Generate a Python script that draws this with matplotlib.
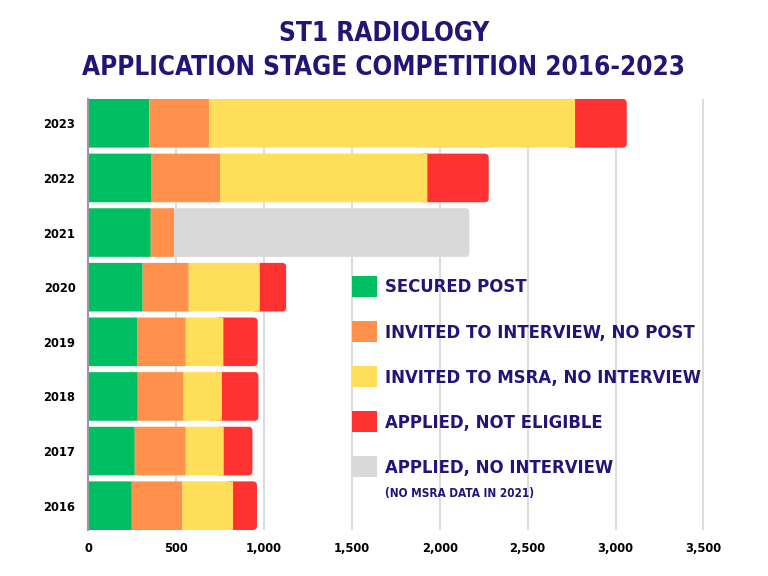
import matplotlib
matplotlib.use("Agg")
import matplotlib.pyplot as plt
from matplotlib.patches import Patch, FancyBboxPatch
from matplotlib.ticker import FuncFormatter
import numpy as np

years = ["2016", "2017", "2018", "2019", "2020", "2021", "2022", "2023"]
secured_post = [249, 266, 283, 279, 311, 357, 362, 349]
interview_no_post = [288, 290, 261, 277, 262, 132, 389, 339]
msra_no_interview = [288, 216, 218, 214, 404, 0, 1179, 2082]
not_eligible = [136, 163, 207, 195, 150, 0, 349, 294]
applied_no_interview = [0, 0, 0, 0, 0, 1680, 0, 0]

labels = ["SECURED POST", "INVITED TO INTERVIEW, NO POST",
          "INVITED TO MSRA, NO INTERVIEW", "APPLIED, NOT ELIGIBLE",
          "APPLIED, NO INTERVIEW"]
colors = ["#00BF63", "#FF914D", "#FFDE59", "#FF3131", "#D9D9D9"]
navy = "#221577"

cond = dict(family="DejaVu Sans", stretch="condensed", weight="bold")

W, H = 768, 576
fig = plt.figure(figsize=(7.68, 5.76), dpi=100)
ax = fig.add_axes([88/W, 1-530/H, 633/W, 431/H])

series = [secured_post, interview_no_post, msra_no_interview, not_eligible, applied_no_interview]
y = np.arange(len(years))
left = np.zeros(len(years))
containers = []
for vals, col, lab in zip(series, colors, labels):
    vals = np.array(vals, dtype=float)
    bc = ax.barh(y, vals, left=left, height=0.89, color=col, label=lab, linewidth=0, zorder=3)
    for p in bc.patches:
        p.set_snap(False)
    containers.append(bc)
    left += vals

ax.set_xlim(0, 3600)
ax.set_ylim(-0.445, 7.445)

# round the right end of each stacked bar
x_per_px = 3600 / 633
y_per_px = 7.89 / 431
r_px = 4
for i in range(len(years)):
    last = None
    for bc in containers:
        if bc.patches[i].get_width() > 0:
            last = bc.patches[i]
    x0, yb = last.get_x(), last.get_y()
    w, h = last.get_width(), last.get_height()
    last.set_visible(False)
    ext = 2 * r_px * x_per_px
    fb = FancyBboxPatch((x0 - ext, yb), w + ext, h,
                        boxstyle=f"round,pad=0,rounding_size={r_px * x_per_px}",
                        mutation_aspect=y_per_px / x_per_px,
                        facecolor=last.get_facecolor(), edgecolor="none", zorder=2,
                        snap=False)
    ax.add_patch(fb)

ax.set_yticks(y)
ax.set_yticklabels(years)
ax.set_xticks(np.arange(0, 3501, 500))
ax.xaxis.set_major_formatter(FuncFormatter(lambda v, p: f"{int(v):,}"))
for lab in ax.get_xticklabels() + ax.get_yticklabels():
    lab.set_fontproperties(dict(size=9.3, **cond))
    lab.set_color("black")
ax.tick_params(axis="both", length=0)
ax.tick_params(axis="y", pad=9)
ax.tick_params(axis="x", pad=9)
ax.grid(axis="x", color="#D5D5D5", linewidth=1.2, zorder=0)
for s in ["top", "right", "bottom"]:
    ax.spines[s].set_visible(False)
ax.spines["left"].set_color("#999999")
ax.spines["left"].set_linewidth(1.5)
ax.spines["left"].set_zorder(4)

fig.text(0.5, 1-34/H, "ST1 RADIOLOGY", ha="center", va="center", color=navy, fontsize=18.75, **cond)
fig.text(0.5, 1-68/H, "APPLICATION STAGE COMPETITION 2016-2023", ha="center", va="center", color=navy, fontsize=18.75, **cond)

handles = [Patch(facecolor=c, edgecolor="none") for c in colors]
leg = ax.legend(handles, labels, loc="upper left",
                bbox_to_anchor=((352-88)/633, (530-276)/431),
                frameon=False, prop=dict(size=13.2, **cond), labelcolor=navy,
                handlelength=1.36, handleheight=1.36, handletextpad=0.45, labelspacing=1.33,
                borderaxespad=0, borderpad=0)
fig.text(385/W, 1-493/H, "(NO MSRA DATA IN 2021)", ha="left", va="center", color=navy, fontsize=8.5, **cond)

fig.savefig("out.png", dpi=100)
